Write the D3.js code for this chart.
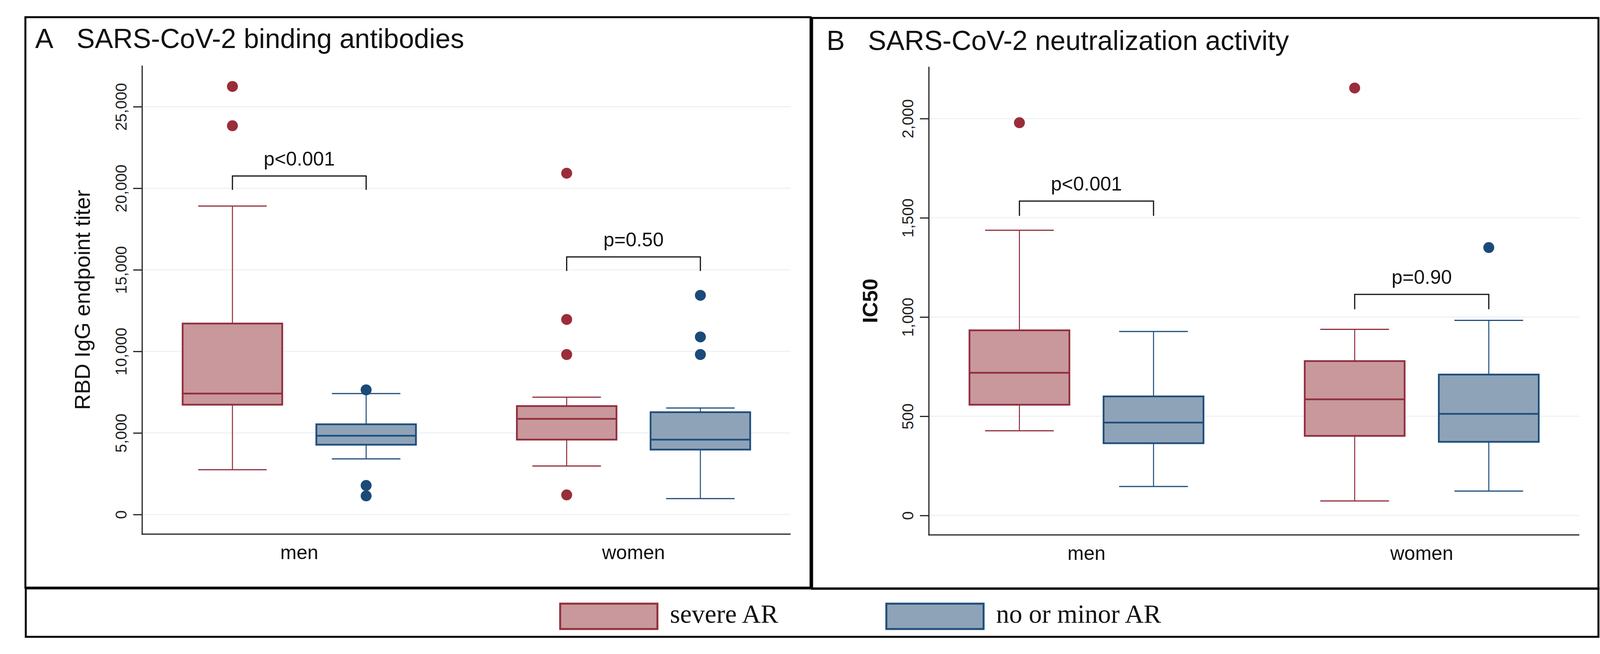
<!DOCTYPE html>
<html>
<head>
<meta charset="utf-8">
<script src="https://cdn.jsdelivr.net/npm/d3@7/dist/d3.min.js"></script>
<style>
  html, body { margin: 0; padding: 0; background: #ffffff; }
  svg { display: block; }
</style>
</head>
<body>
<svg id="chart" width="4119" height="1675"></svg>
<script>
// ---------------- DATA ----------------
const groups = ["men", "women"];
const series = ["severe AR", "no or minor AR"];

// Panel A: RBD IgG endpoint titer  [low whisker, q1, median, q3, high whisker]
const titerSevere = [[2745, 6730, 7415, 11705, 18910], [2970, 4590, 5865, 6647, 7190]];
const titerMinor  = [[3410, 4277, 4830, 5530, 7410], [974, 3978, 4590, 6271, 6527]];
const titerSevereOut = [[23830, 26240], [1200, 9806, 11955, 20920]];
const titerMinorOut  = [[7640, 1780, 1140], [9806, 10884, 13434]];
const titerTicks = [0, 5000, 10000, 15000, 20000, 25000];
const titerP = ["p<0.001", "p=0.50"];
const titerBracketTop = [20750, 15790];
const titerBracketLeg = [19900, 14930];

// Panel B: IC50
const icSevere = [[427, 558, 719, 933, 1437], [73, 401, 585, 778, 938]];
const icMinor  = [[146, 364, 468, 600, 927], [123, 371, 512, 710, 983]];
const icSevereOut = [[1979], [2154]];
const icMinorOut  = [[], [1350]];
const icTicks = [0, 500, 1000, 1500, 2000];
const icP = ["p<0.001", "p=0.90"];
const icBracketTop = [1584, 1114];
const icBracketLeg = [1510, 1039];

// ---------------- STYLE ----------------
const colors = {
  "severe AR":      { fill: "#c8989c", stroke: "#922f3d", dot: "#9a2d39" },
  "no or minor AR": { fill: "#8fa3b8", stroke: "#1f4e7b", dot: "#1b4a79" }
};
const sans = "'Liberation Sans', Arial, sans-serif";
const serif = "'Liberation Serif', 'Times New Roman', serif";

const svg = d3.select("#chart");

function panel(cfg) {
  const g = svg.append("g");
  const y = d3.scaleLinear().domain(cfg.yDomain).range([cfg.y1, cfg.y0]);
  const xg = d3.scalePoint().domain(groups).range([cfg.x0, cfg.x1]).padding(0.47);
  const step = xg.step();
  const xs = d3.scalePoint().domain(series).range([-0.2 * step, 0.2 * step]);
  const bw = 0.298 * step, cw = 0.205 * step;

  // gridlines
  g.append("g").selectAll("line").data(cfg.ticks).join("line")
    .attr("x1", cfg.x0 + 3).attr("x2", cfg.x1)
    .attr("y1", d => y(d)).attr("y2", d => y(d))
    .attr("stroke", "#edf2f5").attr("stroke-width", 3);

  // y axis
  const ax = g.append("g").attr("transform", `translate(${cfg.x0},0)`)
    .call(d3.axisLeft(y).tickValues(cfg.ticks).tickSize(23).tickSizeOuter(0).tickFormat(d3.format(",")));
  ax.select(".domain").remove();
  ax.selectAll(".tick line").attr("stroke", "#222").attr("stroke-width", 3);
  ax.selectAll(".tick text")
    .attr("x", 0).attr("y", 0).attr("dy", 0)
    .attr("text-anchor", "middle")
    .attr("transform", "translate(-40,0) rotate(-90)")
    .attr("font-family", sans).attr("font-size", 40).attr("fill", "#222");
  g.append("line").attr("x1", cfg.x0).attr("x2", cfg.x0).attr("y1", cfg.y0).attr("y2", cfg.y1 + 1.5)
    .attr("stroke", "#222").attr("stroke-width", 3);
  // x axis line
  g.append("line").attr("x1", cfg.x0 - 1.5).attr("x2", cfg.x1).attr("y1", cfg.y1).attr("y2", cfg.y1)
    .attr("stroke", "#222").attr("stroke-width", 3);

  // x labels
  g.append("g").selectAll("text").data(groups).join("text")
    .attr("x", d => xg(d)).attr("y", cfg.y1 + 64)
    .attr("text-anchor", "middle").attr("font-family", sans).attr("font-size", 50).attr("fill", "#111")
    .text(d => d);

  // y title
  g.append("text")
    .attr("transform", `translate(${cfg.titleX},${(cfg.y0 + cfg.y1) / 2}) rotate(-90)`)
    .attr("text-anchor", "middle").attr("font-family", sans)
    .attr("font-size", cfg.yTitleSize).attr("font-weight", cfg.yTitleWeight).attr("fill", "#111")
    .text(cfg.yTitle);

  // panel title
  g.append("text").attr("x", cfg.letterX).attr("y", cfg.titleY)
    .attr("font-family", sans).attr("font-size", 70).attr("fill", "#111").text(cfg.letter);
  g.append("text").attr("x", cfg.letterX + 106).attr("y", cfg.titleY)
    .attr("font-family", sans).attr("font-size", 70).attr("fill", "#111").text(cfg.title);

  // boxes
  const boxes = [];
  groups.forEach((grp, i) => {
    boxes.push({ grp, s: series[0], st: cfg.severe[i], out: cfg.severeOut[i] });
    boxes.push({ grp, s: series[1], st: cfg.minor[i], out: cfg.minorOut[i] });
  });
  const bg = g.append("g").selectAll("g").data(boxes).join("g")
    .attr("transform", d => `translate(${xg(d.grp) + xs(d.s)},0)`);
  // whiskers
  bg.append("line").attr("x1", 0).attr("x2", 0)
    .attr("y1", d => y(d.st[3])).attr("y2", d => y(d.st[4]))
    .attr("stroke", d => colors[d.s].stroke).attr("stroke-width", 2.6);
  bg.append("line").attr("x1", 0).attr("x2", 0)
    .attr("y1", d => y(d.st[1])).attr("y2", d => y(d.st[0]))
    .attr("stroke", d => colors[d.s].stroke).attr("stroke-width", 2.6);
  bg.append("line").attr("x1", -cw / 2).attr("x2", cw / 2)
    .attr("y1", d => y(d.st[4])).attr("y2", d => y(d.st[4]))
    .attr("stroke", d => colors[d.s].stroke).attr("stroke-width", 3);
  bg.append("line").attr("x1", -cw / 2).attr("x2", cw / 2)
    .attr("y1", d => y(d.st[0])).attr("y2", d => y(d.st[0]))
    .attr("stroke", d => colors[d.s].stroke).attr("stroke-width", 3);
  // box
  bg.append("rect").attr("x", -bw / 2).attr("width", bw)
    .attr("y", d => y(d.st[3])).attr("height", d => y(d.st[1]) - y(d.st[3]))
    .attr("fill", d => colors[d.s].fill).attr("stroke", d => colors[d.s].stroke).attr("stroke-width", 4.5);
  // median
  bg.append("line").attr("x1", -bw / 2).attr("x2", bw / 2)
    .attr("y1", d => y(d.st[2])).attr("y2", d => y(d.st[2]))
    .attr("stroke", d => colors[d.s].stroke).attr("stroke-width", 4.5);
  // outliers
  bg.selectAll("circle").data(d => d.out.map(v => ({ v, s: d.s }))).join("circle")
    .attr("cx", 0).attr("cy", d => y(d.v)).attr("r", 14)
    .attr("fill", d => colors[d.s].dot);

  // brackets
  groups.forEach((grp, i) => {
    const xa = xg(grp) + xs(series[0]), xb = xg(grp) + xs(series[1]);
    const yt = y(cfg.bTop[i]), yl = y(cfg.bLeg[i]);
    g.append("path")
      .attr("d", `M${xa},${yl}V${yt}H${xb}V${yl}`)
      .attr("fill", "none").attr("stroke", "#111").attr("stroke-width", 3);
    g.append("text").attr("x", (xa + xb) / 2).attr("y", yt - 27)
      .attr("text-anchor", "middle").attr("font-family", sans).attr("font-size", 50).attr("fill", "#111")
      .text(cfg.p[i]);
  });
}

panel({
  x0: 364, x1: 2024, y0: 168, y1: 1368, yDomain: [-1204, 27518], ticks: titerTicks,
  severe: titerSevere, minor: titerMinor, severeOut: titerSevereOut, minorOut: titerMinorOut,
  bTop: titerBracketTop, bLeg: titerBracketLeg, p: titerP,
  yTitle: "RBD IgG endpoint titer", yTitleSize: 56, yTitleWeight: "normal", titleX: 230,
  letter: "A", title: "SARS-CoV-2 binding antibodies", letterX: 90, titleY: 123
});
panel({
  x0: 2378, x1: 4043, y0: 171, y1: 1370, yDomain: [-98, 2261], ticks: icTicks,
  severe: icSevere, minor: icMinor, severeOut: icSevereOut, minorOut: icMinorOut,
  bTop: icBracketTop, bLeg: icBracketLeg, p: icP,
  yTitle: "IC50", yTitleSize: 54, yTitleWeight: "bold", titleX: 2246,
  letter: "B", title: "SARS-CoV-2 neutralization activity", letterX: 2116, titleY: 128
});

// frames
const frames = [
  { x: 65, y: 44, w: 2010, h: 1461 },
  { x: 2079, y: 46, w: 2013, h: 1462 },
  { x: 66, y: 1507, w: 4026, h: 124 }
];
svg.append("g").selectAll("rect").data(frames).join("rect")
  .attr("x", d => d.x).attr("y", d => d.y).attr("width", d => d.w).attr("height", d => d.h)
  .attr("fill", "none").attr("stroke", "#000").attr("stroke-width", 5);

// legend
const legX = [1434, 2269];
const lg = svg.append("g").selectAll("g").data(series).join("g")
  .attr("transform", (d, i) => `translate(${legX[i]},1546)`);
lg.append("rect").attr("x", 0).attr("y", 0).attr("width", 249).attr("height", 65)
  .attr("fill", d => colors[d].fill).attr("stroke", d => colors[d].stroke).attr("stroke-width", 5);
lg.append("text").attr("x", 281).attr("y", 49)
  .attr("font-family", serif).attr("font-size", 67).attr("fill", "#111").text(d => d);
</script>
</body>
</html>
